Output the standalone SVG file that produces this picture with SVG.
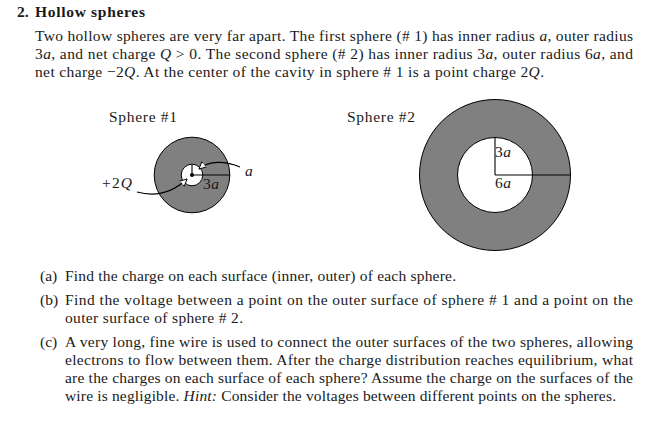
<svg xmlns="http://www.w3.org/2000/svg" width="654" height="424" viewBox="0 0 654 424">
<style>
text{font-family:"Liberation Serif","Times New Roman",serif;font-size:15.5px;fill:#1a1a1a}
.b{font-weight:bold}
.i{font-style:italic}
.ring{fill:#808080;stroke:#000;stroke-width:1}
.hole{fill:#fff;stroke:#000;stroke-width:1}
.ln{fill:none;stroke:#000;stroke-width:1.1}
</style>
<defs>
<marker id="ah" markerUnits="userSpaceOnUse" markerWidth="9" markerHeight="9" refX="7" refY="4.5" orient="auto"><path d="M0,1L7,4.5L0,8z" fill="#fff" stroke="#000" stroke-width="0.9"/></marker>
</defs>
<rect width="654" height="424" fill="#fff"/>
<text x="17" y="17" class="b">2.</text>
<text x="35" y="17" textLength="110" class="b">Hollow spheres</text>
<text x="35" y="41" textLength="598">Two hollow spheres are very far apart. The first sphere (# 1) has inner radius <tspan class="i">a</tspan>, outer radius</text>
<text x="35" y="59" textLength="598">3<tspan class="i">a</tspan>, and net charge <tspan class="i">Q</tspan> &gt; 0. The second sphere (# 2) has inner radius 3<tspan class="i">a</tspan>, outer radius 6<tspan class="i">a</tspan>, and</text>
<text x="35" y="77" textLength="509">net charge −2<tspan class="i">Q</tspan>. At the center of the cavity in sphere # 1 is a point charge 2<tspan class="i">Q</tspan>.</text>
<g id="sphere1">
<text x="109" y="122" textLength="68">Sphere #1</text>
<circle class="ring" cx="192" cy="175" r="37.8"/>
<circle class="hole" cx="192" cy="175" r="10.8"/>
<circle cx="192" cy="175" r="2" fill="#000"/>
<text x="203" y="189" textLength="16">3<tspan class="i">a</tspan></text>
<text x="245" y="176" class="i" font-size="13">a</text>
<text x="102" y="188" textLength="30">+2<tspan class="i">Q</tspan></text>
</g>
<g id="sphere2">
<text x="347" y="122" textLength="68">Sphere #2</text>
<circle class="ring" cx="495" cy="175" r="75.5"/>
<circle class="hole" cx="495" cy="175" r="37.5"/>
<text x="495" y="157" textLength="16">3<tspan class="i">a</tspan></text>
<text x="495" y="188" textLength="16">6<tspan class="i">a</tspan></text>
</g>
<g id="connectors">
<path class="ln" d="M192,175V165"/>
<path class="ln" d="M192,175H230"/>
<path class="ln" d="M495,175V137"/>
<path class="ln" d="M495,175H570"/>
<path class="ln" marker-end="url(#ah)" d="M240,167C226,161 209,160 199,169"/>
<path class="ln" marker-end="url(#ah)" d="M137,192C155,197 172,193 187,179"/>
</g>
<g id="questions">
<text x="40" y="281">(a)</text>
<text x="65" y="281" textLength="391">Find the charge on each surface (inner, outer) of each sphere.</text>
<text x="40" y="305">(b)</text>
<text x="65" y="305" textLength="568">Find the voltage between a point on the outer surface of sphere # 1 and a point on the</text>
<text x="65" y="323" textLength="178">outer surface of sphere # 2.</text>
<text x="40" y="347">(c)</text>
<text x="65" y="347" textLength="568">A very long, fine wire is used to connect the outer surfaces of the two spheres, allowing</text>
<text x="65" y="365" textLength="568">electrons to flow between them. After the charge distribution reaches equilibrium, what</text>
<text x="65" y="383" textLength="568">are the charges on each surface of each sphere? Assume the charge on the surfaces of the</text>
<text x="65" y="401" textLength="551">wire is negligible. <tspan class="i">Hint:</tspan> Consider the voltages between different points on the spheres.</text>
</g>
</svg>
